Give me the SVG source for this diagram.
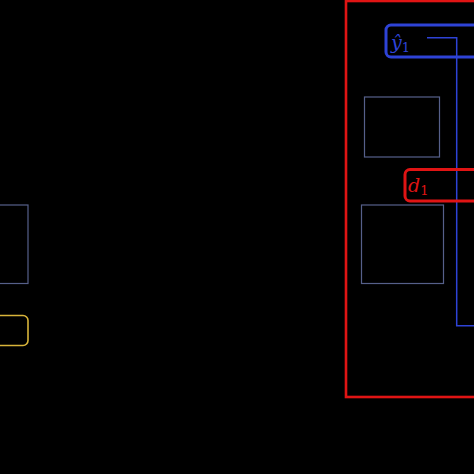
<svg xmlns="http://www.w3.org/2000/svg" width="474" height="474" viewBox="0 0 474 474">
<style>
.box{fill:none;stroke:#56608a;stroke-width:1.2}
.lbl{font-family:"DejaVu Serif","Liberation Serif",serif;font-style:italic;font-size:19px}
</style>
<rect x="0" y="0" width="474" height="474" fill="#000"/>
<g id="outer-red"><rect x="346" y="1" width="140" height="396" fill="none" stroke="#e01414" stroke-width="2.6"/></g>
<g id="box1"><rect class="box" x="364.5" y="97" width="75" height="60"/></g>
<g id="box2"><rect class="box" x="361.5" y="205" width="82" height="78.5"/></g>
<g id="box-left"><rect class="box" x="-40" y="205" width="68" height="78.5"/></g>
<g id="yellow-node"><rect x="-40" y="315.5" width="68" height="30" rx="5" fill="none" stroke="#d8b43a" stroke-width="1.6"/></g>
<g id="connectors"><polyline points="427,37.7 456.7,37.7 456.7,325.7 480,325.7" fill="none" stroke="#2e43d6" stroke-width="1.5"/></g>
<g id="yhat"><rect x="386" y="25" width="110" height="32" rx="5" fill="none" stroke="#2e43d6" stroke-width="3"/><text class="lbl" x="391" y="49" fill="#2e43d6">ŷ<tspan font-size="13" dy="3" font-style="normal">1</tspan></text></g>
<g id="d1"><rect x="405" y="169.5" width="90" height="31.5" rx="5" fill="none" stroke="#e01414" stroke-width="3"/><text class="lbl" x="408" y="192" fill="#e01414">d<tspan font-size="13" dy="3" font-style="normal">1</tspan></text></g>
</svg>
